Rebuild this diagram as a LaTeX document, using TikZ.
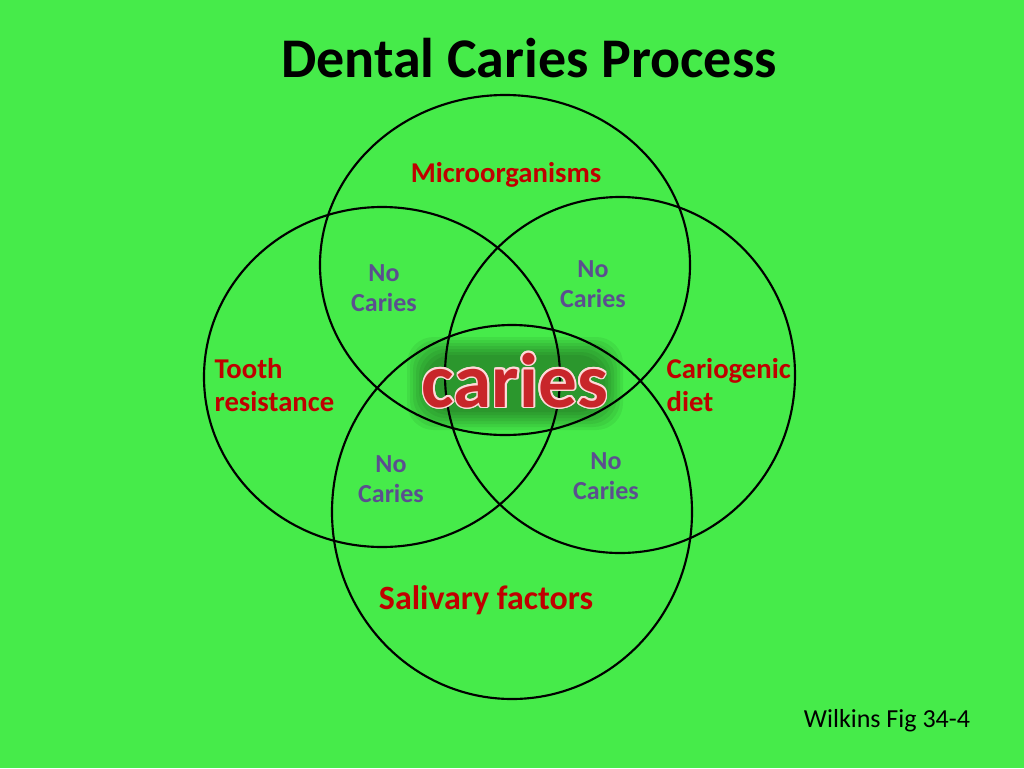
\documentclass[tikz,border=0pt]{standalone}
\usepackage{fontspec}
\setmainfont{Carlito}
\usepackage{contour}
\contourlength{1.2pt}
\definecolor{bggreen}{HTML}{46EB4A}
\definecolor{labred}{HTML}{C00000}
\definecolor{nocol}{HTML}{5B4F8F}
\definecolor{carred}{HTML}{C8262A}
\tikzset{
  ring/.style = {draw = black, line width = 1.6pt},
  factor/.style = {text = labred, font = \bfseries\fontsize{21.5}{25}\selectfont, align = left},
  nocaries/.style = {text = nocol, font = \bfseries\fontsize{19.5}{22.5}\selectfont, align = center}
}
\begin{document}
\begin{tikzpicture}[x = 0.75pt, y = -0.75pt]
        \fill [bggreen] (0,0) rectangle (1024,768);
        \useasboundingbox (0,0) rectangle (1024,768);

        % soft glow behind the centre word
        \foreach \g in {18,15,12,9,6,3,0}
          \fill [black, opacity = 0.06, rounded corners = 20pt]
            (425-\g,355-\g) rectangle (605+\g,412+\g);

        \draw [ring] (505,265) ellipse (185 and 170);
        \draw [ring] (382,377) ellipse (178 and 170);
        \draw [ring] (620,375) ellipse (175 and 178);
        \draw [ring] (512,512) ellipse (180 and 187);

        \node (title) at (529,58) {\bfseries\fontsize{42}{46}\selectfont Dental Caries Process};

        \node [factor] (micro) at (506,175) {Microorganisms};
        \node [factor, anchor = west] (tooth) at (210,385) {Tooth\\resistance};
        \node [factor, anchor = west] (diet) at (662,385) {Cariogenic\\diet};
        \node [factor, font = \bfseries\fontsize{25.5}{28}\selectfont] (saliva) at (486,600) {Salivary factors};

        \node [nocaries] (nc1) at (384,288) {No\\Caries};
        \node [nocaries] (nc2) at (593,284) {No\\Caries};
        \node [nocaries] (nc3) at (391,479) {No\\Caries};
        \node [nocaries] (nc4) at (606,476) {No\\Caries};

        \node (caries) at (515,381)
          {\bfseries\fontsize{58}{60}\selectfont\contour{white!85!red}{\textcolor{carred}{caries}}};

        \node (fig) at (887,721) {\fontsize{19.5}{22}\selectfont Wilkins Fig 34-4};
    \end{tikzpicture}
\end{document}
